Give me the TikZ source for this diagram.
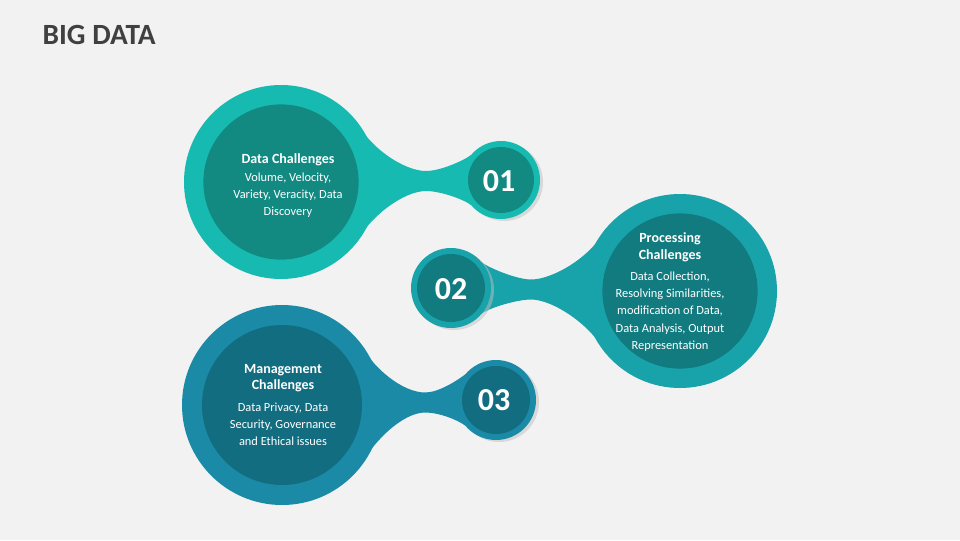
\documentclass[tikz,border=0pt]{standalone}
\usepackage{fontspec}
\setmainfont{Carlito}
\begin{document}
\begin{tikzpicture}[x=0.75pt,y=-0.75pt,
  head/.style={text=white,font=\bfseries\fontsize{10.5}{12.5}\selectfont,align=center},
  body/.style={text=white,font=\fontsize{9.3}{13}\selectfont,align=center},
  num/.style={text=white,font=\bfseries\fontsize{24}{26}\selectfont}]
\definecolor{bg}{HTML}{F2F2F2}
\definecolor{oa}{HTML}{17BAB0}\definecolor{ia}{HTML}{128A82}
\definecolor{ob}{HTML}{18A3AA}\definecolor{ib}{HTML}{127B80}
\definecolor{oc}{HTML}{1A8AA6}\definecolor{ic}{HTML}{136D80}
\fill[bg] (0,0) rectangle (960,540);
\useasboundingbox (0,0) rectangle (960,540);
\node[anchor=west,text=black!75,font=\bfseries\fontsize{22}{24}\selectfont] (title) at (38,35) {BIG DATA};
\newcommand\blob[8]{%
 \pgfmathsetmacro\s{#4>#1 ? 1 : -1}%
 \pgfmathsetmacro\tbx{#1+\s*#3*cos(40)}\pgfmathsetmacro\tby{#2-#3*sin(40)}%
 \pgfmathsetmacro\bby{#2+#3*sin(40)}%
 \pgfmathsetmacro\tsx{#4-\s*#6*cos(40)}\pgfmathsetmacro\tsy{#5-#6*sin(40)}%
 \pgfmathsetmacro\bsy{#5+#6*sin(40)}%
 \pgfmathsetmacro\nx{(#1+\s*#3+#4-\s*#6)/2+\s*6}\pgfmathsetmacro\ny{(#2+#5)/2}%
 \fill[#7] (#1,#2) -- (\tbx,\tby) .. controls (\tbx+\s*14,\tby+28) and (\nx-\s*22,\ny-10) .. (\nx,\ny-10)
   .. controls (\nx+\s*14,\ny-10) and (\tsx-\s*8,\tsy+6) .. (\tsx,\tsy) -- (#4,#5) -- (\tsx,\bsy)
   .. controls (\tsx-\s*8,\bsy-6) and (\nx+\s*14,\ny+10) .. (\nx,\ny+10)
   .. controls (\nx-\s*22,\ny+10) and (\tbx+\s*14,\bby-28) .. (\tbx,\bby) -- cycle;
 \fill[black!25,opacity=0.5] (#4+3,#5+2) circle (#6);
 \fill[#7] (#1,#2) circle (#3);
 \fill[#7] (#4,#5) circle (#6);
 \fill[#8] (#1,#2) circle (#3*0.8);
 \fill[#8] (#4,#5) circle (#6-6);
}
\blob{281}{182}{97}{501}{180}{39}{oa}{ia}
\blob{680}{291}{97}{451}{288}{40}{ob}{ib}
\blob{282}{405}{100}{496}{400}{40}{oc}{ic}
\node[num] (n1) at (499,181) {01};
\node[num] (n2) at (451,289) {02};
\node[num] (n3) at (494,400) {03};
\node[head] (h1) at (288,160) {Data Challenges};
\node[body,anchor=north] (b1) at (288,168) {Volume, Velocity,\\Variety, Veracity, Data\\Discovery};
\node[head] (h2) at (670,247) {Processing\\Challenges};
\node[body,anchor=north] (b2) at (670,267) {Data Collection,\\Resolving Similarities,\\modification of Data,\\Data Analysis, Output\\Representation};
\node[head] (h3) at (283,378) {Management\\Challenges};
\node[body,anchor=north] (b3) at (283,398) {Data Privacy, Data\\Security, Governance\\and Ethical issues};
\end{tikzpicture}
\end{document}
